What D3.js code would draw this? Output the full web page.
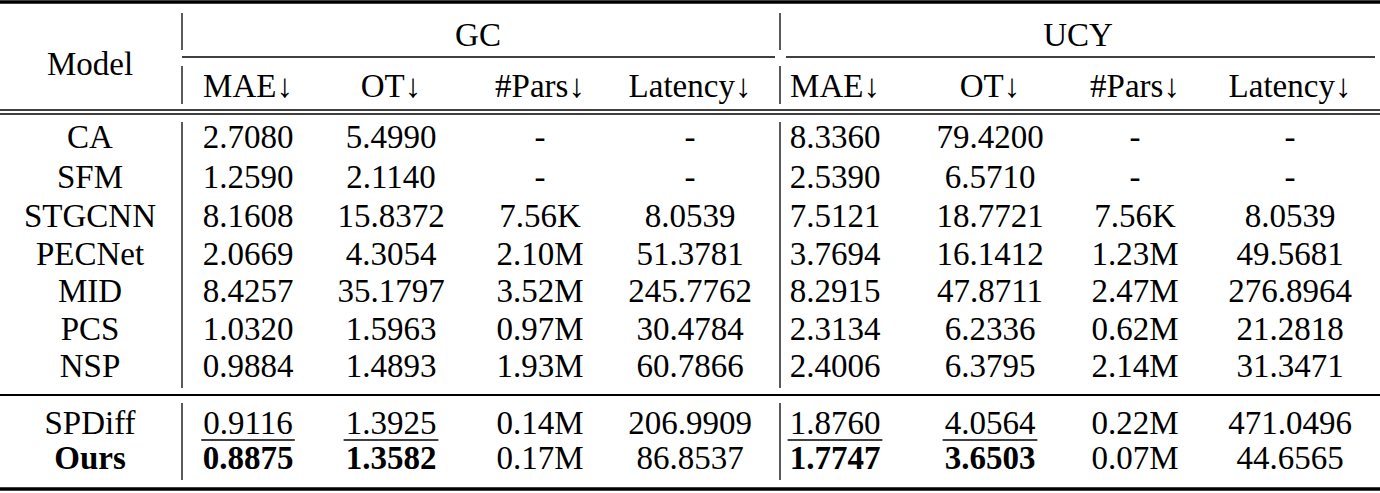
<!DOCTYPE html><html><head><meta charset="utf-8">
<script src="https://cdn.jsdelivr.net/npm/d3@7"></script>
<style>body{margin:0;background:#fff}svg{display:block}</style>
</head><body><svg width="1380" height="493"></svg><script>
const models=["CA","SFM","STGCNN","PECNet","MID","PCS","NSP","SPDiff","Ours"];
const groups=["GC","UCY"];
const metrics=["MAE↓","OT↓","#Pars↓","Latency↓"];
const gcValues=[["2.7080","5.4990","-","-"],["1.2590","2.1140","-","-"],["8.1608","15.8372","7.56K","8.0539"],["2.0669","4.3054","2.10M","51.3781"],["8.4257","35.1797","3.52M","245.7762"],["1.0320","1.5963","0.97M","30.4784"],["0.9884","1.4893","1.93M","60.7866"],["0.9116","1.3925","0.14M","206.9909"],["0.8875","1.3582","0.17M","86.8537"]];
const ucyValues=[["8.3360","79.4200","-","-"],["2.5390","6.5710","-","-"],["7.5121","18.7721","7.56K","8.0539"],["3.7694","16.1412","1.23M","49.5681"],["8.2915","47.8711","2.47M","276.8964"],["2.3134","6.2336","0.62M","21.2818"],["2.4006","6.3795","2.14M","31.3471"],["1.8760","4.0564","0.22M","471.0496"],["1.7747","3.6503","0.07M","44.6565"]];
const underlined=["SPDiff"], bold=["Ours"];
const svg=d3.select("svg").attr("font-family","'Liberation Serif','Times New Roman','Nimbus Roman','DejaVu Serif',serif").attr("font-size",33);
const colX=d3.scaleOrdinal().domain(d3.range(8)).range([248,391,540,690,835,990,1135,1290]);
const groupX=d3.scaleOrdinal().domain(groups).range([478,1078]);
const rowY=d3.scaleOrdinal().domain(models).range([137,177,216,254,291,329,366,423,458]);
const line=(x1,y1,x2,y2,w)=>svg.append("line").attr("x1",x1).attr("y1",y1).attr("x2",x2).attr("y2",y2).attr("stroke","#000").attr("stroke-width",w);
line(0,2,1380,2,3.5);line(0,110,1380,110,1.3);line(0,114,1380,114,1.3);line(0,395,1380,395,2);line(0,489,1380,489,3.5);
line(182,57,775,57,1.3);line(786,57,1375,57,1.3);
[182,780].forEach(x=>{line(x,13,x,50,1.3);line(x,66,x,104,1.3);line(x,122,x,388,1.3);line(x,403,x,480,1.3);});
svg.append("text").attr("x",90).attr("y",75).attr("text-anchor","middle").text("Model");
groups.forEach(g=>svg.append("text").attr("x",groupX(g)).attr("y",46).attr("text-anchor","middle").text(g));
d3.range(8).forEach(i=>svg.append("text").attr("x",colX(i)).attr("y",97).attr("text-anchor","middle").text(metrics[i%4]));
models.forEach((m,r)=>{
  const y=rowY(m);
  svg.append("text").attr("x",90).attr("y",y+11).attr("text-anchor","middle").attr("font-weight",bold.includes(m)?"bold":null).text(m);
  const vals=gcValues[r].concat(ucyValues[r]);
  vals.forEach((v,i)=>{
    const t=svg.append("text").attr("x",colX(i)).attr("y",y+11).attr("text-anchor","middle").text(v);
    if(bold.includes(m)&&i%4<2)t.attr("font-weight","bold");
    if(underlined.includes(m)&&i%4<2){const w=t.node().getComputedTextLength();line(colX(i)-w/2-2,y+17,colX(i)+w/2+2,y+17,1.3);}
  });
});
</script></body></html>
